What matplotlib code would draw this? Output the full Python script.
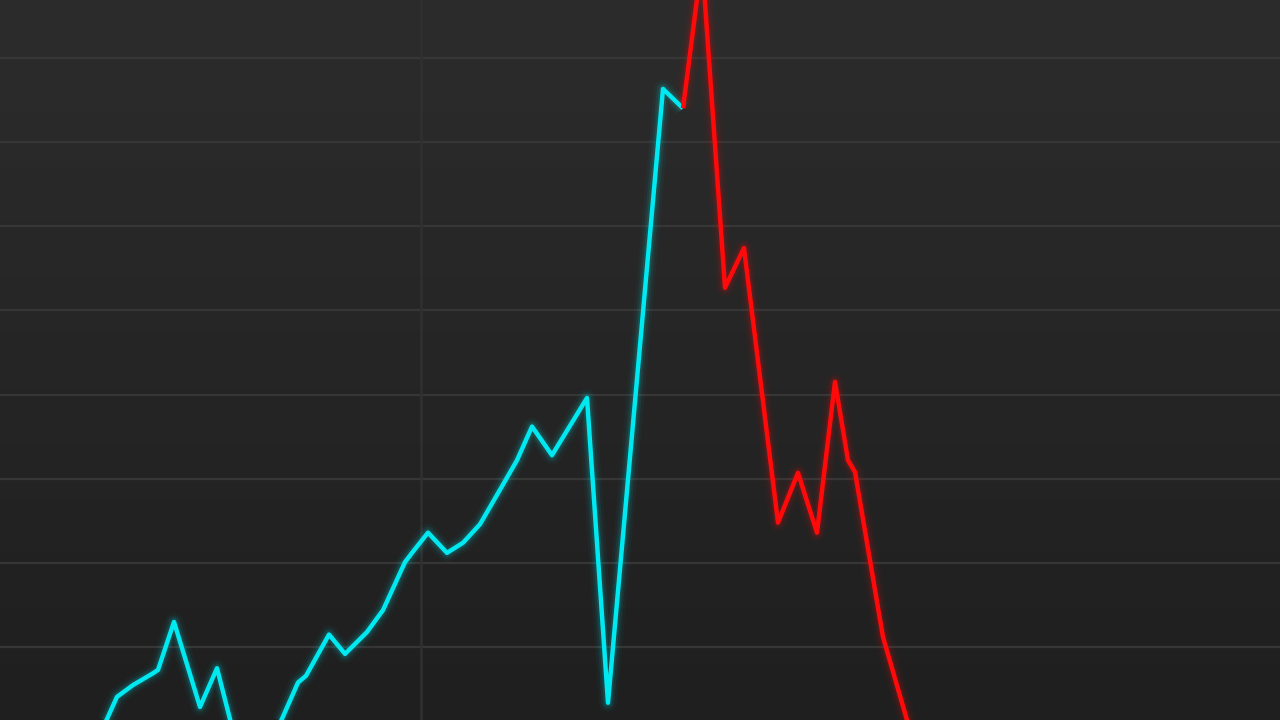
import numpy as np
import matplotlib
matplotlib.use("Agg")
import matplotlib.pyplot as plt

# ---- data ----
rise_x = [9.3, 11.7, 13.3, 15.3, 15.8, 17.4, 20.0, 21.7, 24.9, 29.8, 30.6, 32.9, 34.5,
          36.7, 38.3, 40.5, 41.2, 42.8, 44.7, 46.3, 48.0, 50.0, 51.7, 53.2, 55.2, 58.7,
          60.8, 66.3, 68.3]
rise_y = [-22, 41, 55, 69, 73, 130, 29, 75, -74, 58, 66, 115, 92,
          118, 144, 201, 212, 236, 212, 224, 246, 287, 322, 362, 328, 396,
          34, 763, 740]

fall_x = [68.3, 70.2, 72.5, 74.4, 77.8, 79.8, 81.7, 83.5, 84.8, 85.5, 88.3, 92.0]
fall_y = [740, 916, 527, 574, 248, 307, 236, 415, 322, 308, 112, -40]

y_grid = [100, 200, 300, 400, 500, 600, 700, 800]
x_grid = [42.1]

# ---- figure ----
fig = plt.figure(figsize=(12.8, 7.2), dpi=100)
ax = fig.add_axes([0, 0, 1, 1])
ax.set_xlim(0, 128)
ax.set_ylim(13.5, 868.6)
ax.axis("off")

# background gradient (top lighter, bottom darker)
grad = np.linspace(0, 1, 256).reshape(-1, 1)
top = np.array([44, 44, 44]) / 255
bot = np.array([31, 31, 31]) / 255
img = top * (1 - grad)[..., None] + bot * grad[..., None]
img = img.reshape(256, 1, 3)
ax.imshow(img, extent=[0, 128, 13.5, 868.6], aspect="auto", zorder=0,
          interpolation="bilinear")

for gy in y_grid:
    ax.axhline(gy, color="#363636", lw=1.6, zorder=1)
for gx in x_grid:
    ax.axvline(gx, color="#303030", lw=1.8, zorder=1)

def glow_line(x, y, color):
    for lw, a in [(13, 0.04), (9, 0.07), (6, 0.12)]:
        ax.plot(x, y, color=color, lw=lw, alpha=a, solid_joinstyle="round",
                solid_capstyle="butt", zorder=2)
    ax.plot(x, y, color=color, lw=3.2, solid_joinstyle="round",
            solid_capstyle="butt", zorder=3)

glow_line(rise_x, rise_y, "#00e8f0")
glow_line(fall_x, fall_y, "#ff0a0a")

fig.savefig("out.png", dpi=100)
